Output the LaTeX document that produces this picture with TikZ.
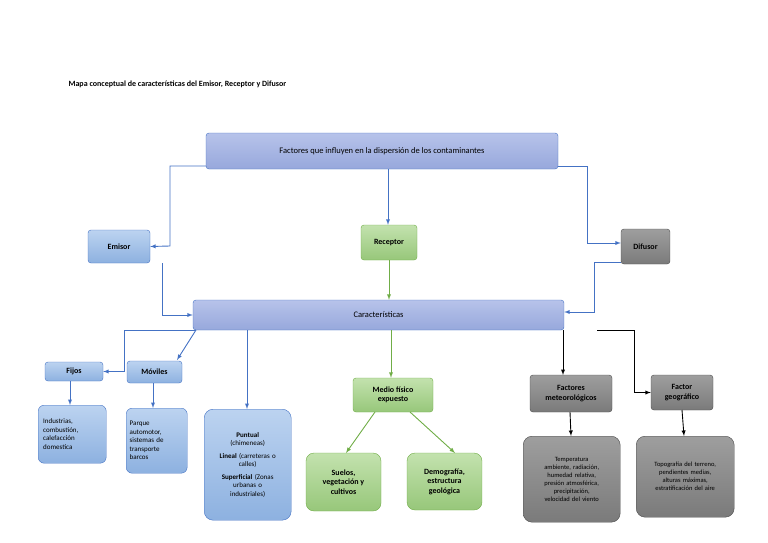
\documentclass[tikz,border=0pt]{standalone}
\usepackage{fontspec}
\setmainfont{Carlito}
\definecolor{bltop}{HTML}{BCD3F0}\definecolor{blbot}{HTML}{8DB1E0}
\definecolor{putop}{HTML}{B7C3EA}\definecolor{pubot}{HTML}{97A8DC}
\definecolor{grtop}{HTML}{C3E2AE}\definecolor{grbot}{HTML}{97C77A}
\definecolor{lnb}{HTML}{4472C4}\definecolor{lng}{HTML}{70AD47}
\begin{document}
\begin{tikzpicture}[x=1pt,y=-1pt,
 bx/.style={draw=#1,line width=0.4pt,rounded corners=3pt,align=center,font=\fontsize{7}{8.5}\selectfont,inner sep=1pt},
 bl/.style={bx=lnb,top color=bltop,bottom color=blbot},
 pu/.style={bx=lnb,top color=putop,bottom color=pubot},
 gr/.style={bx=lng,top color=grtop,bottom color=grbot},
 gy/.style={bx=black!70,top color=black!38,bottom color=black!52},
 ab/.style={draw=lnb,line width=0.9pt,-latex},
 ak/.style={draw=black,line width=0.9pt,-latex}]
\useasboundingbox (0,0) rectangle (768,543);
\node[font=\fontsize{8}{9}\selectfont\bfseries,anchor=west] (title) at (65,84) {Mapa conceptual de características del Emisor, Receptor y Difusor};
\node[pu,minimum width=352,minimum height=36,font=\fontsize{8.5}{9}\selectfont] (top) at (382,151) {Factores que influyen en la dispersión de los contaminantes};
\node[bl,minimum width=62,minimum height=33,font=\fontsize{8}{9}\selectfont\bfseries] (em) at (119,246.5) {Emisor};
\node[gr,minimum width=56,minimum height=35,font=\fontsize{8}{9}\selectfont\bfseries] (re) at (389,242.5) {Receptor};
\node[gy,minimum width=49,minimum height=35,font=\fontsize{8}{9}\selectfont\bfseries] (di) at (645.5,246.5) {Difusor};
\node[pu,minimum width=371,minimum height=30,font=\fontsize{8.5}{9}\selectfont] (car) at (378.5,315) {Características};
\node[bl,minimum width=58,minimum height=19,font=\fontsize{8}{9}\selectfont\bfseries] (fi) at (74,371.5) {Fijos};
\node[bl,minimum width=55,minimum height=22,font=\fontsize{8}{9}\selectfont\bfseries] (mo) at (154.5,372) {Móviles};
\node[bl,minimum width=68,minimum height=58,rounded corners=6pt,anchor=north west,align=left,text width=58] (ind) at (38,405) {Industrias,\\ combustión,\\ calefacción\\ domestica\\[10pt]};
\node[bl,minimum width=61,minimum height=65,rounded corners=6pt,anchor=north west,align=left,text width=54] (pq) at (126,408) {Parque\\ automotor,\\ sistemas de\\ transporte\\ barcos\\[8pt]};
\node[bl,minimum width=87,minimum height=111,rounded corners=9pt,anchor=north west,text width=80] (pu) at (204,409) {\textbf{Puntual}\\(chimeneas)\\[4pt]\textbf{Lineal} (carreteras o\\calles)\\[4pt]\textbf{Superficial} (Zonas\\urbanas o\\industriales)\\[14pt]};
\node[gr,minimum width=80,minimum height=34,font=\fontsize{8}{9.5}\selectfont\bfseries] (me) at (393,395) {Medio físico\\expuesto};
\node[gr,minimum width=75,minimum height=58,rounded corners=8pt,font=\fontsize{8}{9.5}\selectfont\bfseries] (su) at (343.5,482) {Suelos,\\vegetación y\\cultivos};
\node[gr,minimum width=75,minimum height=57,rounded corners=8pt,font=\fontsize{8}{9.5}\selectfont\bfseries] (de) at (444.5,481.5) {Demografía,\\estructura\\geológica};
\node[gy,minimum width=82,minimum height=37,font=\fontsize{8}{9.5}\selectfont\bfseries] (fm) at (571,393.5) {Factores\\meteorológicos};
\node[gy,minimum width=62,minimum height=35,font=\fontsize{8}{9.5}\selectfont\bfseries] (fg) at (682,392.5) {Factor\\geográfico};
\node[gy,minimum width=97,minimum height=86,rounded corners=9pt,anchor=north west,text width=92,font=\fontsize{6.5}{8}\selectfont] (te) at (523,436) {Temperatura\\ambiente, radiación,\\humedad relativa,\\presión atmosférica,\\precipitación,\\velocidad del viento\\[14pt]};
\node[gy,minimum width=98,minimum height=81,rounded corners=9pt,anchor=north west,text width=94,font=\fontsize{6.5}{8}\selectfont] (to) at (636,436) {Topografía del terreno,\\pendientes medias,\\alturas máximas,\\estratificación del aire\\[30pt]};
\draw[ab] (top.west|-0,166) -| (170,246) -- (em.east);
\draw[ab] (388,169) -- (re.north-|388,0);
\draw[ab] (top.east|-0,166) -| (587,243) -- (di.west|-0,243);
\draw[ab] (162,263) |- (car.west);
\draw[ab,draw=lng] (re.south) -- (car.north-|re.south);
\draw[ab] (621,262) -- (594,262) |- (car.east|-0,312);
\draw[ab] (196,330) -- (124,330) |- (fi.east);
\draw[ab] (196,330) -- (177,360);
\draw[ab] (247,330) -- (pu.north-|247,0);
\draw[ab,draw=lng] (391,330) -- (me.north-|391,0);
\draw[ak] (563,330) -- (563,375);
\draw[ak] (597,330) -- (634,330) |- (fg.west);
\draw[ab] (70,381) -- (ind.north-|70,0);
\draw[ab] (153,383) -- (pq.north-|153,0);
\draw[ab,draw=lng] (375,412) -- (346,453);
\draw[ab,draw=lng] (410,412) -- (455,453);
\draw[ak] (570,412) -- (571,436);
\draw[ak] (682,410) -- (684,436);
\end{tikzpicture}
\end{document}
